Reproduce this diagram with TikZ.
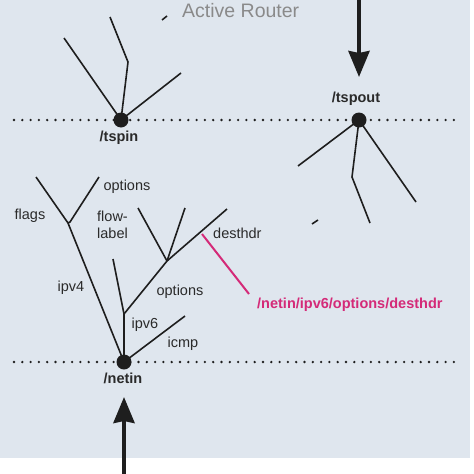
\documentclass[tikz,border=0pt]{standalone}
\usepackage{fontspec}
\setmainfont{Liberation Sans}
\usetikzlibrary{arrows.meta}
\definecolor{bg}{HTML}{DFE6EE}
\definecolor{ink}{HTML}{1E1E1E}
\definecolor{txt}{HTML}{2A2A2A}
\definecolor{pinkc}{HTML}{D42A78}
\definecolor{graytxt}{HTML}{8A8A8A}
\begin{document}
\begin{tikzpicture}[x=1pt,y=-1pt,
  branch/.style={draw=ink,line width=1.6pt},
  dotline/.style={draw=ink,line width=2.6pt,line cap=round,dash pattern=on 0pt off 8.3pt},
  hub/.style={circle,fill=ink,inner sep=0pt,minimum size=15pt},
  lbl/.style={text=txt,inner sep=0pt,anchor=base,font=\fontsize{14.5}{17}\selectfont},
  blbl/.style={lbl,font=\fontsize{14.5}{17}\selectfont\bfseries},
  bigarrow/.style={draw=ink,line width=4pt,-{Stealth[length=26pt,width=21pt,inset=2pt]}}]
\useasboundingbox (0,0) rectangle (474,474);
\fill[bg] (0,0) rectangle (470,458);
% dotted levels
\coordinate (u1) at (14,120); \coordinate (u2) at (457,120);
\coordinate (l1) at (14,362); \coordinate (l2) at (457,362);
\draw[dotline] (u1) -- (u2);
\draw[dotline] (l1) -- (l2);
% title
\node[lbl,anchor=base west,text=graytxt,font=\fontsize{19.5}{22}\selectfont] (title) at (182,17) {Active Router};
% tick marks
\coordinate (m1a) at (162,20); \coordinate (m1b) at (167,16);
\draw[branch] (m1a) -- (m1b);
\coordinate (m2a) at (312,224); \coordinate (m2b) at (318,220);
\draw[branch] (m2a) -- (m2b);
% tspin
\node[hub] (tspin) at (121,120) {};
\node[blbl] (tspinl) at (119,141) {/tspin};
\coordinate (a1) at (64,38);
\coordinate (a2) at (128,62); \coordinate (a3) at (110,17);
\coordinate (a4) at (181,73);
\draw[branch] (tspin.center) -- (a1);
\draw[branch] (tspin.center) -- (a2) -- (a3);
\draw[branch] (tspin.center) -- (a4);
% tspout
\coordinate (topin) at (359,0);
\node[hub] (tspout) at (359,120) {};
\node[blbl] (tspoutl) at (356,102) {/tspout};
\coordinate (tiptop) at (359,77);
\draw[bigarrow] (topin) -- (tiptop);
\coordinate (b1) at (298,166);
\coordinate (b2) at (352,177); \coordinate (b3) at (370,223);
\coordinate (b4) at (416,202);
\draw[branch] (tspout.center) -- (b1);
\draw[branch] (tspout.center) -- (b2) -- (b3);
\draw[branch] (tspout.center) -- (b4);
% netin
\node[hub] (netin) at (124,362) {};
\node[blbl] (netinl) at (123,383) {/netin};
\coordinate (botin) at (124,474);
\coordinate (tipbot) at (124,397);
\draw[bigarrow] (botin) -- (tipbot);
% ipv4 subtree
\coordinate (f4) at (68,223);
\coordinate (f4b) at (70,222);
\coordinate (flg) at (36,177);
\coordinate (opt4) at (99,177);
\draw[branch] (netin.center) -- (f4) -- (flg);
\draw[branch] (f4) -- (f4b) -- (opt4);
% ipv6 subtree
\coordinate (f6) at (124,314);
\coordinate (fl) at (113,259);
\coordinate (fo) at (167,261);
\coordinate (o1) at (138,208);
\coordinate (o2) at (185,208);
\coordinate (dh) at (227,209);
\coordinate (dhp) at (202,234);
\draw[branch] (netin.center) -- (f6) -- (fl);
\draw[branch] (f6) -- (fo) -- (dh);
\draw[branch] (fo) -- (o1);
\draw[branch] (fo) -- (o2);
% icmp
\coordinate (ic) at (185,316);
\draw[branch] (netin.center) -- (ic);
% pink callout
\coordinate (pk) at (249,294);
\draw[draw=pinkc,line width=2pt] (dhp) -- (pk);
\node[blbl,anchor=base west,text=pinkc] (path) at (257,308) {/netin/ipv6/options/desthdr};
% labels
\node[lbl] (flags) at (30,219) {flags};
\node[lbl] (optu) at (127,190) {options};
\node[lbl] (ipv4) at (71,291) {ipv4};
\node[lbl,anchor=base west,align=left] (flow) at (97,238) {flow-\\label};
\node[lbl] (optl) at (180,295) {options};
\node[lbl] (ipv6) at (145,328) {ipv6};
\node[lbl] (icmp) at (183,347) {icmp};
\node[lbl,anchor=base west] (desthdr) at (213,238) {desthdr};
\end{tikzpicture}
\end{document}
